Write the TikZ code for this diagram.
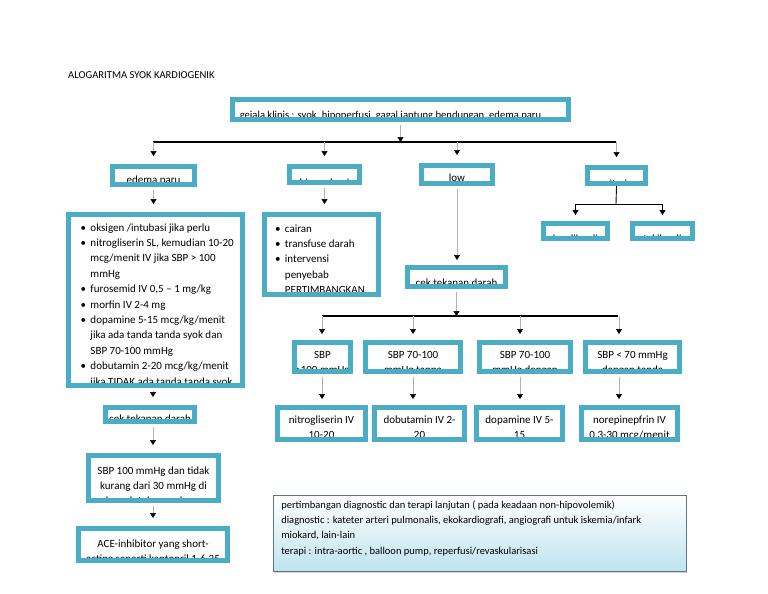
\documentclass[tikz,border=0pt]{standalone}
\usepackage{fontspec}
\setmainfont{Carlito}
\usetikzlibrary{arrows.meta}
\usetikzlibrary{shadows}

\definecolor{boxteal}{RGB}{75,172,198}
\definecolor{infoblue}{RGB}{190,227,238}
\definecolor{infoedge}{RGB}{90,120,140}

\newcommand{\bullist}[1]{\fontsize{11}{15.4}\selectfont\begin{tabular}[t]{@{}l@{\hspace{4.5pt}}l@{}}#1\end{tabular}}

\tikzset{
  tealbox/.style={draw=boxteal, line width=5pt, fill=white, inner sep=0pt},
  boxlabel/.style={inner sep=0pt, minimum width=0pt, minimum height=0pt, font=\fontsize{11}{15}\selectfont},
  ctext/.style 2 args={path picture={\node[boxlabel, anchor=base] at ([yshift=-#1]path picture bounding box.north) {\begin{tabular}[t]{@{}c@{}}#2\end{tabular}};}},
  ltext/.style n args={3}{path picture={\node[boxlabel, anchor=base west] at ([xshift=#1, yshift=-#2]path picture bounding box.north west) {#3};}},
  feed/.style={draw=black!30, line width=0.6pt, -{Triangle[color=black, width=6pt, length=5pt]}, shorten <=2.5pt, shorten >=8pt},
  barline/.style={draw=black, line width=1.1pt},
  infobox/.style={draw=infoedge, line width=0.6pt, top color=white, bottom color=infoblue, drop shadow={shadow xshift=1pt, shadow yshift=-1.5pt, opacity=0.35}},
}

\begin{document}
\begin{tikzpicture}[x=1pt, y=-1pt]
  \useasboundingbox (0,0) rectangle (768,594);
  \node[font=\fontsize{10.6}{12}\selectfont, anchor=base west, inner sep=0pt] (title) at (68,78) {ALOGARITMA SYOK KARDIOGENIK};

  % clinical signs and the four branches
  \node[tealbox, minimum width=336, minimum height=20, ctext={18.5}{\fontsize{10.6}{15}\selectfont gejala klinis : syok, hipoperfusi, gagal jantung bendungan, edema paru\hspace*{20pt}}] (gejala) at (400.5,109.5) {};
  \node[tealbox, minimum width=82, minimum height=18, ctext={17}{edema paru}] (edema) at (153.5,175.5) {};
  \node[tealbox, minimum width=70, minimum height=16, ctext={20}{hipovolemi}] (hipo) at (324.5,174.5) {};
  \node[tealbox, minimum width=71, minimum height=18, ctext={15.5}{low}] (low) at (457,174.5) {};
  \node[tealbox, minimum width=58, minimum height=16, ctext={20}{aritmia}] (arit) at (616.5,175.5) {};

  \coordinate (barL) at (153,142);
  \coordinate (barR) at (616,142);
  \draw[barline] (barL) -- (barR);
  \draw[feed, shorten >=0pt] (gejala.south) -- (gejala.south |- barL);
  \foreach \b in {edema,hipo,low,arit}
    \draw[feed, shorten <=0pt] (\b.north |- barL) -- (\b.north);

  % edema paru
  \node[tealbox, minimum width=174, minimum height=171, ltext={9.5}{16.5}{\bullist{%
    \textbullet & oksigen /intubasi jika perlu\\
    \textbullet & nitrogliserin SL, kemudian 10-20\\
     & mcg/menit IV jika SBP > 100\\
     & mmHg\\
    \textbullet & furosemid IV 0,5 -- 1 mg/kg\\
    \textbullet & morfin IV 2-4 mg\\
    \textbullet & dopamine 5-15 mcg/kg/menit\\
     & jika ada tanda tanda syok dan\\
     & SBP 70-100 mmHg\\
    \textbullet & dobutamin 2-20 mcg/kg/menit\\
     & jika TIDAK ada tanda tanda syok}}] (edemalist) at (155.5,300) {};
  \node[tealbox, minimum width=89, minimum height=14, ctext={14.5}{cek tekanan darah}] (cekL) at (150,414.5) {};
  \node[tealbox, minimum width=130, minimum height=45, ctext={18.5}{SBP 100 mmHg dan tidak\\kurang dari 30 mmHg di\\bawah tekanan dasar}] (sbpL) at (153.5,478) {};
  \node[tealbox, minimum width=149, minimum height=32, ctext={18.5}{ACE-inhibitor yang short-\\acting seperti kaptopril 1-6,25}] (ace) at (153,544.5) {};
  \draw[feed] (edema.south) -- (edema.south |- edemalist.north);
  \draw[feed] (edemalist.south -| 153,0) -- (cekL.north -| 153,0);
  \draw[feed] (cekL.south -| 153,0) -- (sbpL.north -| 153,0);
  \draw[feed] (sbpL.south -| 153,0) -- (ace.north -| 153,0);

  % hipovolemi
  \node[tealbox, minimum width=114, minimum height=80, ltext={8}{17.5}{\bullist{%
    \textbullet & cairan\\
    \textbullet & transfuse darah\\
    \textbullet & intervensi\\
     & penyebab\\
     & PERTIMBANGKAN}}] (hipolist) at (321.5,254.5) {};
  \draw[feed] (hipo.south) -- (hipo.south |- hipolist.north);

  % aritmia
  \node[tealbox, minimum width=64, minimum height=15, ctext={18.5}{bradikardi}] (bradi) at (575.5,231) {};
  \node[tealbox, minimum width=60, minimum height=15, ctext={18.5}{takikardi}] (taki) at (662.5,231) {};
  \coordinate (aritj) at (616,204);
  \draw[line width=0.9pt] (arit.south) -- (aritj);
  \draw[line width=0.9pt] (bradi.north |- aritj) -- (taki.north |- aritj);
  \foreach \b in {bradi,taki}
    \draw[feed, draw=black, line width=0.9pt, shorten <=0pt, shorten >=6pt] (\b.north |- aritj) -- (\b.north);

  % low output
  \node[tealbox, minimum width=98, minimum height=19, ctext={18.5}{cek tekanan darah}] (cekR) at (456.5,277) {};
  \draw[feed, shorten >=5pt] (low.south) -- (low.south |- cekR.north);
  \coordinate (b2L) at (322,316);
  \coordinate (b2R) at (618,316);
  \draw[barline] (b2L) -- (b2R);
  \draw[feed, shorten >=0pt] (cekR.south) -- (cekR.south |- b2L);

  \node[tealbox, minimum width=56, minimum height=29, ctext={16}{SBP\\>100 mmHg}] (sbpA) at (322.5,357) {};
  \node[tealbox, minimum width=95, minimum height=29, ctext={16}{SBP 70-100\\mmHg tanpa}] (sbpB) at (413,357) {};
  \node[tealbox, minimum width=91, minimum height=29, ctext={16}{SBP 70-100\\mmHg dengan}] (sbpC) at (525,357) {};
  \node[tealbox, minimum width=94, minimum height=29, ctext={16}{SBP < 70 mmHg\\dengan tanda}] (sbpD) at (632.5,357) {};

  \node[tealbox, minimum width=88, minimum height=32, ctext={15.5}{nitrogliserin IV\\10-20}] (nitro) at (321.5,423.5) {};
  \node[tealbox, minimum width=90, minimum height=32, ctext={15.5}{dobutamin IV 2-\\20}] (dobu) at (419.5,423.5) {};
  \node[tealbox, minimum width=86, minimum height=32, ctext={15.5}{dopamine IV 5-\\15}] (dopa) at (519.5,423.5) {};
  \node[tealbox, minimum width=96, minimum height=32, ctext={15.5}{norepinepfrin IV\\0,3-30 mcg/menit}] (nore) at (629.5,423.5) {};

  \foreach \x/\s/\d in {322/sbpA/nitro, 413/sbpB/dobu, 520/sbpC/dopa, 619/sbpD/nore} {
    \draw[feed, shorten <=0pt, shorten >=6pt] (\x,316) -- (\s.north -| \x,0);
    \draw[feed, shorten >=6pt] (\s.south -| \x,0) -- (\d.north -| \x,0);
  }

  % further diagnostics
  \node[infobox, minimum width=413, minimum height=76, inner sep=0pt, ltext={8}{13}{\fontsize{10.5}{15.4}\selectfont\begin{tabular}[t]{@{}l@{}}
    pertimbangan diagnostic dan terapi lanjutan ( pada keadaan non-hipovolemik)\\
    diagnostic : kateter arteri pulmonalis, ekokardiografi, angiografi untuk iskemia/infark\\
    miokard, lain-lain\\
    terapi : intra-aortic , balloon pump, reperfusi/revaskularisasi\end{tabular}}] (info) at (479.5,533) {};
\end{tikzpicture}
\end{document}
